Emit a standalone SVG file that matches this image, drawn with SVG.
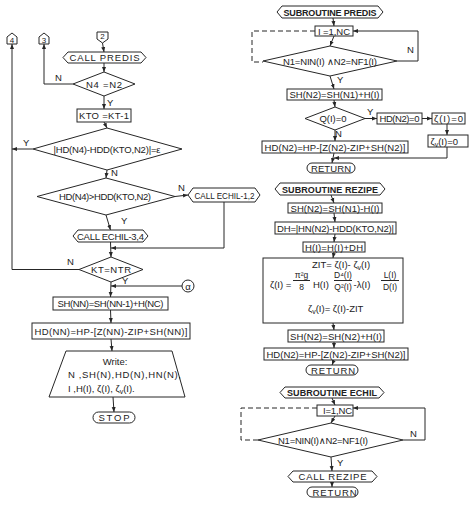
<svg xmlns="http://www.w3.org/2000/svg" width="474" height="505" viewBox="0 0 474 505">
<style>
.s{fill:none;stroke:#262626;stroke-width:1}
.b{fill:#fff;stroke:#262626;stroke-width:1}
.d{stroke-dasharray:5 3}
text{font-family:"Liberation Sans","DejaVu Sans",sans-serif;font-size:9.5px;fill:#222}
.c{text-anchor:middle}
.h{font-weight:bold;font-size:9px}
.sm{font-size:8px}
.f{font-size:8.5px}
</style>
<defs>
<marker id="a" viewBox="0 0 10 10" refX="10" refY="5" markerWidth="5" markerHeight="5" orient="auto" markerUnits="userSpaceOnUse"><path d="M0,1 L10,5 L0,9z" fill="#262626"/></marker>
</defs>
<rect width="474" height="505" fill="#fff"/>
<g id="connectors" class="s">
<path d="M102.5,43 L104,52" marker-end="url(#a)"/>
<path d="M104,63 V72" marker-end="url(#a)"/>
<path d="M73,84 H44 V44" marker-end="url(#a)"/>
<path d="M104,96 V109" marker-end="url(#a)"/>
<path d="M104,122 L107,128" marker-end="url(#a)"/>
<path d="M33,149 H12" marker-end="url(#a)"/>
<path d="M107,170 L106,178" marker-end="url(#a)"/>
<path d="M175,196.5 L188,195" marker-end="url(#a)"/>
<path d="M106,215 L110.5,230" marker-end="url(#a)"/>
<path d="M110.5,242 L111,257" marker-end="url(#a)"/>
<path d="M224,202 V248 H111" marker-end="url(#a)"/>
<path d="M79,269.5 H12 V44" marker-end="url(#a)"/>
<path d="M111,282 L110.5,297" marker-end="url(#a)"/>
<path d="M182,286 H111" marker-end="url(#a)"/>
<path d="M110.5,310 L111,323" marker-end="url(#a)"/>
<path d="M111,339 L112,351" marker-end="url(#a)"/>
<path d="M113,397 L114,412" marker-end="url(#a)"/>
<path d="M333,18 L334,26" marker-end="url(#a)"/>
<path d="M334,36 L330,46" marker-end="url(#a)"/>
<path class="s d" d="M315,31 H252 V62 H263"/>
<path d="M397,61 H418 V31 H353" marker-end="url(#a)"/>
<path d="M330,76 L334,89" marker-end="url(#a)"/>
<path d="M334,100 L335,107" marker-end="url(#a)"/>
<path d="M365,118.5 H377" marker-end="url(#a)"/>
<path d="M422,118.5 H432" marker-end="url(#a)"/>
<path d="M447,124 V135" marker-end="url(#a)"/>
<path d="M447,147 V158 H334" marker-end="url(#a)"/>
<path d="M335,130 V141" marker-end="url(#a)"/>
<path d="M334,153 L332,163" marker-end="url(#a)"/>
<path d="M331,195 L334,203" marker-end="url(#a)"/>
<path d="M334,213 L335,222" marker-end="url(#a)"/>
<path d="M335,234 L334,242" marker-end="url(#a)"/>
<path d="M334,252 L333,258" marker-end="url(#a)"/>
<path d="M333,323 L334,330" marker-end="url(#a)"/>
<path d="M334,342 V348" marker-end="url(#a)"/>
<path d="M334,360 L332,365" marker-end="url(#a)"/>
<path d="M332,398 L335,405" marker-end="url(#a)"/>
<path d="M335,416 L331,423" marker-end="url(#a)"/>
<path class="s d" d="M317,408 H241 V440 H258"/>
<path d="M403,440 H425 V408 H353" marker-end="url(#a)"/>
<path d="M331,457 L332,471" marker-end="url(#a)"/>
<path d="M332,482 V487" marker-end="url(#a)"/>
</g>
<g id="labels">
<text x="55" y="81">N</text>
<text x="107" y="106">Y</text>
<text x="23" y="146">Y</text>
<text x="111" y="176">N</text>
<text x="178" y="191">N</text>
<text x="121" y="224">Y</text>
<text x="67" y="265">N</text>
<text x="122" y="284">Y</text>
<text x="407" y="53">N</text>
<text x="337" y="83">Y</text>
<text x="367" y="115">Y</text>
<text x="335" y="136.5">N</text>
<text x="410" y="437">N</text>
<text x="337" y="466">Y</text>
</g>
<g id="conn4"><polygon class="b" points="7,44 7,37 12,33 17,37 17,44"/><text class="c sm" x="12" y="42.5">4</text></g>
<g id="conn3"><polygon class="b" points="39,44 39,37 44,33 49,37 49,44"/><text class="c sm" x="44" y="42.5">3</text></g>
<g id="conn2"><polygon class="b" points="97,32 108,32 108,39 102.5,43 97,39"/><text class="c sm" x="102.5" y="39">2</text></g>
<g id="callPredis"><polygon class="b" points="63,57.5 68,52 141,52 146,57.5 141,63 68,63"/><text class="c" x="104.5" y="61" textLength="70">CALL PREDIS</text></g>
<g id="dN4"><polygon class="b" points="73,84 104,72 135,84 104,96"/><text class="c" x="104" y="87.5" textLength="36">N4 =N2</text></g>
<g id="kto"><rect class="b" x="77" y="109" width="54" height="13"/><text class="c" x="104" y="119" textLength="50">KTO =KT-1</text></g>
<g id="dEps"><polygon class="b" points="33,149 107,128 182,149 107,170"/><text class="c" x="107" y="152.5" textLength="107">|HD(N4)-HDD(KTO,N2)|=ε</text></g>
<g id="dHD"><polygon class="b" points="37,196.5 106,178 175,196.5 106,215"/><text class="c" x="105" y="200" textLength="92">HD(N4)&gt;HDD(KTO,N2)</text></g>
<g id="callEchil12"><polygon class="b" points="188,195 193,188 255,188 260,195 255,202 193,202"/><text class="c" x="224.5" y="198.5" font-size="8.5" textLength="60" lengthAdjust="spacingAndGlyphs">CALL ECHIL-1,2</text></g>
<g id="callEchil34"><polygon class="b" points="73,236 78,230 143,230 148,236 143,242 78,242"/><text class="c" x="110.5" y="239.5" textLength="67">CALL ECHIL-3,4</text></g>
<g id="dKT"><polygon class="b" points="79,269.5 111,257 143,269.5 111,282"/><text class="c" x="111" y="273" textLength="40">KT=NTR</text></g>
<g id="alpha"><circle class="b" cx="188" cy="286" r="6"/><text class="c" x="188" y="289.5" font-size="10">α</text></g>
<g id="shNN"><rect class="b" x="53" y="297" width="115" height="13"/><text class="c" x="110.5" y="307" textLength="106">SH(NN)=SH(NN-1)+H(NC)</text></g>
<g id="hdNN"><rect class="b" x="32" y="323" width="158" height="16"/><text class="c" x="111" y="334.5" textLength="153">HD(NN)=HP-[Z(NN)-ZIP+SH(NN)]</text></g>
<g id="write"><polygon class="b" points="66,351 172,351 185,397 49,397"/>
<text class="c" x="115" y="364.5">Write:</text>
<text x="68" y="378" textLength="113">N ,SH(N),HD(N),HN(N),</text>
<text x="68" y="391.5">I ,H(I),  ζ(I),  ζ<tspan dy="2" font-size="7">v</tspan><tspan dy="-2">(I).</tspan></text></g>
<g id="stop"><rect class="b" x="93" y="412" width="42" height="11" rx="5.5"/><text class="c" x="114" y="421" textLength="31">STOP</text></g>
<g id="subPredis"><polygon class="b" points="277,12 282,6 378,6 383,12 378,18 282,18"/><text class="c h" x="330" y="15.5" textLength="93">SUBROUTINE PREDIS</text></g>
<g id="loopP"><rect class="b" x="315" y="26" width="38" height="10"/><text class="c" x="334" y="34.5" font-size="9" textLength="32">I =1,NC</text></g>
<g id="dNinP"><polygon class="b" points="263,61 330,46 397,61 330,76"/><text class="c" x="330" y="64.5" textLength="94">N1=NIN(I) ∧N2=NF1(I)</text></g>
<g id="shP"><rect class="b" x="287" y="89" width="95" height="11"/><text class="c" x="334.5" y="98" textLength="90">SH(N2)=SH(N1)+H(I)</text></g>
<g id="dQ"><polygon class="b" points="305,118.5 335,107 365,118.5 335,130"/><text class="c" x="333" y="122" textLength="27">Q(I)=0</text></g>
<g id="hd0"><rect class="b" x="377" y="113" width="45" height="11"/><text class="c" x="399.5" y="122" textLength="40">HD(N2)=0</text></g>
<g id="z0"><rect class="b" x="432" y="113" width="33" height="11"/><text class="c" x="448.5" y="122" textLength="29">ζ(I)=0</text></g>
<g id="zv0"><rect class="b" x="428" y="135" width="40" height="12"/><text x="430.5" y="144.5">ζ<tspan dy="2" font-size="7">v</tspan><tspan dy="-2">(I)=0</tspan></text></g>
<g id="hdP"><rect class="b" x="262" y="141" width="146" height="12"/><text class="c" x="335" y="150.5" textLength="141">HD(N2)=HP-[Z(N2)-ZIP+SH(N2)]</text></g>
<g id="retP"><rect class="b" x="307" y="163" width="48" height="10" rx="5"/><text class="c" x="331" y="171.5" textLength="40">RETURN</text></g>
<g id="subRezipe"><polygon class="b" points="275,189 280,183 380,183 385,189 380,195 280,195"/><text class="c h" x="330" y="192.5" textLength="96">SUBROUTINE REZIPE</text></g>
<g id="shR1"><rect class="b" x="288" y="203" width="94" height="10"/><text class="c" x="335" y="211.5" textLength="89">SH(N2)=SH(N1)-H(I)</text></g>
<g id="dh"><rect class="b" x="275" y="222" width="121" height="12"/><text class="c" x="335.5" y="231.5" textLength="117">DH=|HN(N2)-HDD(KTO,N2)|</text></g>
<g id="hI"><rect class="b" x="303" y="242" width="62" height="10"/><text class="c" x="334" y="250.5" textLength="58">H(I)=H(I)+DH</text></g>
<g id="formula"><rect class="b" x="263" y="258" width="140" height="65"/>
<text x="312" y="268">ZIT= ζ(I)-  ζ<tspan dy="2" font-size="7">v</tspan><tspan dy="-2">(I)</tspan></text>
<text x="270" y="288">ζ(I) =</text>
<text class="c f" x="301.5" y="278">π²g</text>
<line class="s" x1="293" y1="280.5" x2="310" y2="280.5"/>
<text class="c f" x="301.5" y="290">8</text>
<text x="313" y="288">H(I)</text>
<text class="c f" x="343" y="278">D⁴(I)</text>
<line class="s" x1="334" y1="280.5" x2="352" y2="280.5"/>
<text class="c f" x="343" y="290">Q²(I)</text>
<text x="353.5" y="288">-λ(I)</text>
<text class="c f" x="390" y="278">L(I)</text>
<line class="s" x1="381" y1="280.5" x2="399" y2="280.5"/>
<text class="c f" x="390" y="290">D(I)</text>
<text x="308" y="312">ζ<tspan dy="2" font-size="7">v</tspan><tspan dy="-2">(I)=  ζ(I)-ZIT</tspan></text>
</g>
<g id="shR2"><rect class="b" x="288" y="330" width="96" height="12"/><text class="c" x="336" y="339.5" textLength="92">SH(N2)=SH(N2)+H(I)</text></g>
<g id="hdR"><rect class="b" x="264" y="348" width="144" height="12"/><text class="c" x="336" y="357.5" textLength="139">HD(N2)=HP-[Z(N2)-ZIP+SH(N2)]</text></g>
<g id="retR"><rect class="b" x="306" y="365" width="52" height="10" rx="5"/><text class="c" x="333" y="373.5" textLength="44">RETURN</text></g>
<g id="subEchil"><polygon class="b" points="280,392.5 285,387 379,387 384,392.5 379,398 285,398"/><text class="c h" x="332" y="396" textLength="90">SUBROUTINE ECHIL</text></g>
<g id="loopE"><rect class="b" x="317" y="405" width="36" height="11"/><text class="c" x="337.5" y="414" font-size="9" textLength="29">I=1,NC</text></g>
<g id="dNinE"><polygon class="b" points="258,440 331,423 403,440 331,457"/><text class="c" x="323" y="443.5" textLength="90">N1=NIN(I)∧N2=NF1(I)</text></g>
<g id="callRezipe"><polygon class="b" points="288,476.5 293,471 372,471 377,476.5 372,482 293,482"/><text class="c" x="332.5" y="480" textLength="68">CALL REZIPE</text></g>
<g id="retE"><rect class="b" x="307" y="487" width="51" height="10" rx="5"/><text class="c" x="334.5" y="495.5" textLength="44">RETURN</text></g>
</svg>
